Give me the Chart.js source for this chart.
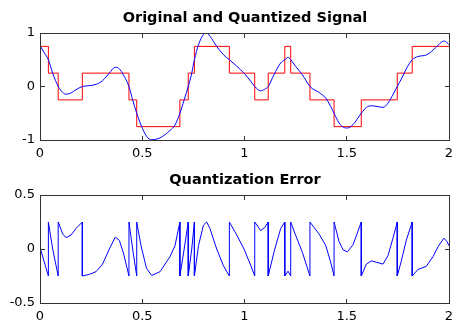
<!DOCTYPE html>
<html><head><meta charset="utf-8">
<script src="https://cdn.jsdelivr.net/npm/chart.js@4.4.1/dist/chart.umd.min.js"></script>
<style>
html,body{margin:0;padding:0;background:#fff;overflow:hidden;width:474px;height:327px;position:relative}
canvas{position:absolute;left:0;display:block}
#c1{top:0}
#c2{top:165px}
.ttl{position:absolute;font-family:"DejaVu Sans",sans-serif;font-weight:bold;font-size:14.5px;line-height:17px;color:#000;text-align:center;white-space:nowrap}
</style></head>
<body>
<canvas id="c1" width="474" height="165"></canvas>
<canvas id="c2" width="474" height="162"></canvas>
<script>
// ---- data ----
const signalX = [0.000,0.021,0.041,0.062,0.089,0.111,0.127,0.152,0.176,0.207,0.241,0.274,0.306,0.339,0.368,0.388,0.407,0.435,0.453,0.473,0.494,0.521,0.546,0.587,0.636,0.660,0.684,0.705,0.725,0.742,0.755,0.775,0.799,0.815,0.831,0.864,0.897,0.926,0.962,1.000,1.030,1.050,1.079,1.099,1.116,1.144,1.177,1.197,1.213,1.226,1.250,1.283,1.320,1.364,1.397,1.421,1.438,1.462,1.483,1.503,1.531,1.571,1.596,1.620,1.653,1.677,1.702,1.726,1.747,1.767,1.791,1.820,1.848,1.889,1.922,1.946,1.975,1.990,2.000];
const signalY = [0.765,0.63,0.50,0.25,0.00,-0.11,-0.145,-0.12,-0.06,0.00,0.015,0.04,0.11,0.25,0.36,0.33,0.22,0.00,-0.25,-0.50,-0.72,-0.93,-0.995,-0.96,-0.82,-0.72,-0.50,-0.25,0.00,0.25,0.50,0.78,0.97,1.00,0.94,0.75,0.595,0.50,0.38,0.24,0.10,0.00,-0.08,-0.05,0.00,0.22,0.44,0.50,0.545,0.50,0.377,0.22,0.00,-0.11,-0.215,-0.37,-0.50,-0.68,-0.76,-0.776,-0.71,-0.50,-0.39,-0.36,-0.377,-0.39,-0.31,-0.15,0.00,0.14,0.33,0.50,0.56,0.59,0.68,0.77,0.85,0.82,0.78];

const quantX = [0,0.041,0.089,0.207,0.435,0.473,0.684,0.725,0.755,0.926,1.050,1.116,1.197,1.226,1.320,1.438,1.571,1.747,1.820,2.0];
const quantY = [0.75,0.25,-0.25,0.25,-0.25,-0.75,-0.25,0.25,0.75,0.25,-0.25,0.25,0.75,0.25,-0.25,-0.75,-0.25,0.25,0.75,0.75];

const errorX = [0.000,0.021,0.041,0.041,0.062,0.089,0.089,0.111,0.127,0.152,0.176,0.207,0.207,0.241,0.274,0.306,0.339,0.368,0.388,0.407,0.435,0.435,0.453,0.473,0.473,0.494,0.521,0.546,0.587,0.636,0.660,0.684,0.684,0.705,0.725,0.725,0.742,0.755,0.755,0.775,0.799,0.815,0.831,0.864,0.897,0.926,0.926,0.962,1.000,1.030,1.050,1.050,1.079,1.099,1.116,1.116,1.144,1.177,1.197,1.197,1.213,1.226,1.226,1.250,1.283,1.320,1.320,1.364,1.397,1.421,1.438,1.438,1.462,1.483,1.503,1.531,1.571,1.571,1.596,1.620,1.653,1.677,1.702,1.726,1.747,1.747,1.767,1.791,1.820,1.820,1.848,1.889,1.922,1.946,1.975,1.990,2.000];
const errorY = [0.015,-0.12,-0.25,0.25,0.00,-0.25,0.25,0.14,0.105,0.13,0.19,0.25,-0.25,-0.235,-0.21,-0.14,0.00,0.11,0.08,-0.03,-0.25,0.25,0.00,-0.25,0.25,0.03,-0.18,-0.245,-0.21,-0.07,0.03,0.25,-0.25,0.00,0.25,-0.25,0.00,0.25,-0.25,0.03,0.22,0.25,0.19,0.00,-0.155,-0.25,0.25,0.13,-0.01,-0.15,-0.25,0.25,0.17,0.20,0.25,-0.25,-0.03,0.19,0.25,-0.25,-0.205,-0.25,0.25,0.127,-0.03,-0.25,0.25,0.14,0.035,-0.12,-0.25,0.25,0.07,-0.01,-0.026,0.04,0.25,-0.25,-0.14,-0.11,-0.127,-0.14,-0.06,0.10,0.25,-0.25,-0.11,0.08,0.25,-0.25,-0.19,-0.16,-0.07,0.02,0.10,0.07,0.03];

const xTicks = [0,0.5,1,1.5,2];
const xTickLabels = ['0','0.5','1','1.5','2'];
const topYTicks = [-1,0,1];
const topYTickLabels = ['-1','0','1'];
const botYTicks = [-0.5,0,0.5];
const botYTickLabels = ['-0.5','0','0.5'];
const topTitle = 'Original and Quantized Signal';
const botTitle = 'Quantization Error';

const pts = (xs, ys) => xs.map((x, i) => ({x: x, y: ys[i]}));

const FRAME = '#333333';
const TICK_IN = 4;
const tickFont = { family: 'DejaVu Sans', size: 13 };

function axis(position, min, max, values, labels, showLabels, fitSize, pad) {
  const horizontal = position === 'top' || position === 'bottom';
  return {
    type: 'linear', position: position, min: min, max: max,
    grid: { display: false, drawTicks: false }, border: { display: false },
    afterBuildTicks: s => { s.ticks = values.map(v => ({value: v})); },
    afterFit: s => { if (horizontal) { s.height = fitSize; } else { s.width = fitSize; } },
    ticks: { display: showLabels, color: '#000', padding: pad, maxRotation: 0, autoSkip: false,
      font: tickFont, callback: (v, i) => labels[i] }
  };
}

function makeChart(id, datasets, yMin, yMax, yTicks, yLabels, topPad, xH) {
  return new Chart(document.getElementById(id), {
    type: 'line',
    data: { datasets: datasets },
    options: {
      responsive: false, animation: false, events: [],
      layout: { padding: { left: 0, right: 25, top: topPad, bottom: 0 } },
      plugins: { legend: { display: false }, tooltip: { enabled: false }, title: { display: false } },
      elements: { point: { radius: 0 } },
      scales: {
        x: axis('bottom', 0, 2, xTicks, xTickLabels, true, xH, 6),
        y: axis('left', yMin, yMax, yTicks, yLabels, true, 40, 5),
        x2: axis('top', 0, 2, xTicks, xTickLabels, false, 0, 0),
        y2: axis('right', yMin, yMax, yTicks, yLabels, false, 0, 0)
      }
    }
  });
}

// plot-box frame with inward tick marks and a title, placed from the chart's own area and scales
function frameOverlay(chart, pageTop, yValues, title, titleTop) {
  const a = chart.chartArea, sx = chart.scales.x, sy = chart.scales.y;
  const col = p => Math.round(p - 0.5);
  const L = col(a.left), R = col(a.right), T = col(a.top), B = col(a.bottom);
  const mk = (x, y, w, h, css) => {
    const d = document.createElement('div');
    d.style.cssText = 'position:absolute;left:' + x + 'px;top:' + (pageTop + y) + 'px;width:' + w + 'px;height:' + h + 'px;' + css;
    document.body.appendChild(d);
    return d;
  };
  mk(L, T, R - L + 1, B - T + 1, 'box-sizing:border-box;border:1px solid ' + FRAME + ';');
  xTicks.forEach(v => {
    const c = col(sx.getPixelForValue(v));
    mk(c, T, 1, TICK_IN + 1, 'background:' + FRAME + ';');
    mk(c, B - TICK_IN, 1, TICK_IN + 1, 'background:' + FRAME + ';');
  });
  yValues.forEach(v => {
    const r = col(sy.getPixelForValue(v));
    mk(L, r, TICK_IN + 1, 1, 'background:' + FRAME + ';');
    mk(R - TICK_IN, r, TICK_IN + 1, 1, 'background:' + FRAME + ';');
  });
  const t = mk(L, titleTop, R - L + 1, 17, '');
  t.className = 'ttl';
  t.textContent = title;
}

const ch1 = makeChart('c1', [
  { data: pts(signalX, signalY), xAxisID: 'x', yAxisID: 'y', borderColor: '#0000ff', borderWidth: 1, cubicInterpolationMode: 'monotone', fill: false },
  { data: pts(quantX, quantY), xAxisID: 'x', yAxisID: 'y', borderColor: '#ff0000', borderWidth: 1, stepped: 'before', fill: false }
], -1, 1, topYTicks, topYTickLabels, 33, 25);

const ch2 = makeChart('c2', [
  { data: pts(errorX, errorY), xAxisID: 'x', yAxisID: 'y', borderColor: '#0000ff', borderWidth: 1, tension: 0, fill: false }
], -0.5, 0.5, botYTicks, botYTickLabels, 30, 24);

try { frameOverlay(ch1, 0, topYTicks, topTitle, 9); frameOverlay(ch2, 165, botYTicks, botTitle, 6); } catch (e) {}
</script>
</body></html>
